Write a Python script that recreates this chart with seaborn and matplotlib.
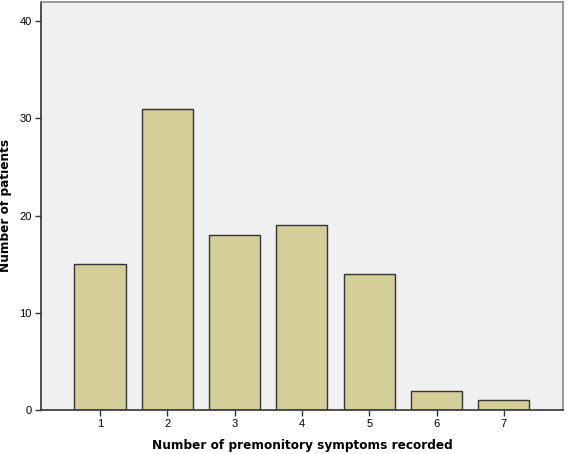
import matplotlib
matplotlib.use("Agg")
import matplotlib.pyplot as plt
import seaborn as sns
import pandas as pd

categories = ["1", "2", "3", "4", "5", "6", "7"]
patients = [15, 31, 18, 19, 14, 2, 1]

df = pd.DataFrame({"symptoms": categories, "patients": patients})

sns.set_style("white")
plt.rcParams['font.family'] = ['Liberation Sans', 'DejaVu Sans']
plt.rcParams['text.color'] = 'black'
plt.rcParams['axes.labelcolor'] = 'black'
plt.rcParams['xtick.color'] = 'black'
plt.rcParams['ytick.color'] = 'black'

fig = plt.figure(figsize=(5.67, 4.54), dpi=100)
ax = fig.add_axes([0.072, 0.097, 0.921, 0.899])
ax.set_facecolor("#F0F0F0")
sns.barplot(data=df, x="symptoms", y="patients", color="#D3CE97",
            saturation=1, width=0.76, edgecolor="#333333", linewidth=1.0, ax=ax)
ax.set_xlim(-0.88, 6.88)
ax.set_ylim(0, 42)
ax.set_yticks([0, 10, 20, 30, 40])
ax.set_xlabel("Number of premonitory symptoms recorded", fontsize=8.7,
              fontweight="bold", va="center", family=["DejaVu Sans"])
ax.set_ylabel("Number of patients", fontsize=8.7, fontweight="bold",
              va="center", family=["DejaVu Sans"])
ax.xaxis.set_label_coords(0.5, -0.086)
ax.yaxis.set_label_coords(-0.067, 0.5)
ax.tick_params(axis="both", which="both", direction="out", length=4.5, width=1,
               color="#333333", labelsize=8, left=True, bottom=True, pad=2)
for s in ["left", "bottom"]:
    ax.spines[s].set_color("#333333")
    ax.spines[s].set_linewidth(1.2)
for s in ["top", "right"]:
    ax.spines[s].set_color("#888888")
    ax.spines[s].set_linewidth(1.2)
fig.savefig("out.png", dpi=100)
